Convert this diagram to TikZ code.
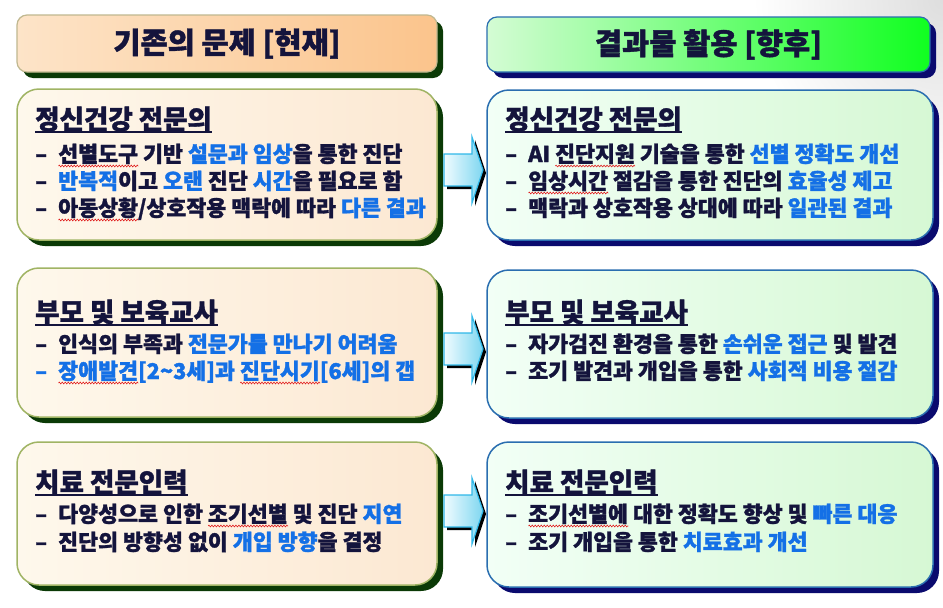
\documentclass[tikz,border=0pt]{standalone}
\usepackage{fontspec}
\setmainfont{Noto Sans CJK KR}[BoldFeatures={FakeBold=1.3}]
\usetikzlibrary{shadows,decorations.pathmorphing}
\definecolor{navytxt}{HTML}{14143C}
\definecolor{hlblue}{HTML}{1470E6}
\definecolor{wavered}{HTML}{E02020}
\definecolor{lshadow}{HTML}{0B3A06}
\definecolor{rshadow}{HTML}{0A0A6E}
\definecolor{lborder}{HTML}{A0B464}
\definecolor{lhborder}{HTML}{C0B890}
\definecolor{rborder}{HTML}{2A6EB0}
\definecolor{lhead1}{HTML}{FDE4C8}
\definecolor{lhead2}{HTML}{FBC48C}
\definecolor{rhead1}{HTML}{D4FCD4}
\definecolor{rheadm}{HTML}{7CFC80}
\definecolor{rhead2}{HTML}{10FF20}
\definecolor{lbox1}{HTML}{FEF8EC}
\definecolor{lbox2}{HTML}{FCE8D2}
\definecolor{rbox1}{HTML}{F2FFF6}
\definecolor{rbox2}{HTML}{D6F8D4}
\definecolor{arr1}{HTML}{F0FCFF}
\definecolor{arr2}{HTML}{7ED6F0}
\definecolor{arrb}{HTML}{30B8E8}
\newsavebox\wvbox
\newcommand\wv[1]{\sbox\wvbox{#1}\rlap{\tikz[x=1pt,y=1pt,baseline=0pt]\draw[wavered,line width=0.6pt,decorate,decoration={zigzag,segment length=3pt,amplitude=0.9pt}] (0pt,-4pt) -- (\the\wd\wvbox,-4pt);}\usebox\wvbox}
\newcommand\hb[1]{\textcolor{hlblue}{#1}}
\newcommand\dsh{\makebox[23pt][l]{–}}
\tikzset{
  lhead/.style={draw=lhborder, line width=1.2pt, rounded corners=10pt, left color=lhead1, right color=lhead2,
    general shadow={fill=lshadow, shadow xshift=6pt, shadow yshift=-6pt},
    minimum width=420pt, minimum height=57pt, inner sep=0pt, text=navytxt,
    font=\fontsize{29.5}{32}\selectfont\bfseries},
  rhead/.style={draw=rborder, line width=1.2pt, rounded corners=10pt, left color=rhead1, middle color=rheadm, right color=rhead2,
    general shadow={fill=rshadow, shadow xshift=6pt, shadow yshift=-6pt},
    minimum width=443pt, minimum height=55pt, inner sep=0pt, text=navytxt,
    font=\fontsize{29.5}{32}\selectfont\bfseries},
  lbox/.style={draw=lborder, line width=1.5pt, rounded corners=22pt, left color=lbox1, right color=lbox2,
    general shadow={fill=lshadow, shadow xshift=6pt, shadow yshift=-6pt},
    minimum width=420pt, inner sep=0pt},
  rbox/.style={draw=rborder, line width=1.5pt, rounded corners=22pt, left color=rbox1, right color=rbox2,
    general shadow={fill=rshadow, shadow xshift=6pt, shadow yshift=-6pt},
    minimum width=446pt, inner sep=0pt},
  ttl/.style={anchor=base west, inner sep=0pt, text=navytxt, font=\fontsize{26.5}{30}\selectfont\bfseries},
  txt/.style={anchor=base west, inner sep=0pt, text=navytxt, font=\fontsize{21.7}{26}\selectfont\bfseries},
  uline/.style={draw=navytxt, line width=1.6pt},
  barrow/.style={draw=arrb, line width=1.2pt, left color=arr1, right color=arr2},
  barrowsh/.style={fill=black}
}
\begin{document}
\begin{tikzpicture}[x=1pt,y=-1pt]
\useasboundingbox (0,0) rectangle (943,608);
\fill[white] (0,0) rectangle (943,608);
\shade[inner color=black!13, outer color=white] (943,0) circle (190);

% headers
\node[lhead] (h1) at (227,43.5) {기존의 문제 [현재]};
\node[rhead] (h2) at (708.5,44.5) {결과물 활용 [향후]};

% boxes
\node[lbox, minimum height=151pt] (b1) at (227,164.5) {};
\node[rbox, minimum height=150pt] (r1) at (710,165) {};
\node[lbox, minimum height=149pt] (b2) at (227,342.5) {};
\node[rbox, minimum height=148pt] (r2) at (710,344) {};
\node[lbox, minimum height=143pt] (b3) at (227,513.5) {};
\node[rbox, minimum height=145pt] (r3) at (710,514.5) {};

% arrows
\foreach \cy/\nm in {170/a1,349/a2,511/a3}{
  \fill[barrowsh] (447,\cy-13) -- (475,\cy-13) -- (475,\cy-30) -- (486,\cy+3) -- (475,\cy+36) -- (475,\cy+19) -- (447,\cy+19) -- cycle;
  \draw[barrow] (444,\cy-16) -- (472,\cy-16) -- (472,\cy-33) -- (483,\cy) -- (472,\cy+33) -- (472,\cy+16) -- (444,\cy+16) -- cycle;
  \coordinate (\nm) at (463,\cy);
}

% box 1 left
\node[ttl] (t1) at (35,129) {정신건강 전문의};
\draw[uline] ([yshift=-3pt]t1.base west) -- ([yshift=-3pt]t1.base east);
\node[txt] (l11) at (35,162) {\dsh\wv{선별도구} 기반 \hb{설문과} \hb{임상}을 통한 진단};
\node[txt] (l12) at (35,189) {\dsh\hb{반복적}이고 \hb{오랜} 진단 \hb{시간}을 필요로 함};
\node[txt] (l13) at (35,216) {\dsh\wv{아동상황}/상호작용 맥락에 따라 \hb{다른 결과}};

% box 1 right
\node[ttl] (u1) at (505,129) {정신건강 전문의};
\draw[uline] ([yshift=-3pt]u1.base west) -- ([yshift=-3pt]u1.base east);
\node[txt] (m11) at (505,162) {\dsh AI \wv{진단지원} 기술을 통한 \hb{선별 정확도 개선}};
\node[txt] (m12) at (505,189) {\dsh\wv{임상시간} 절감을 통한 진단의 \hb{효율성 제고}};
\node[txt] (m13) at (505,216) {\dsh 맥락과 상호작용 상대에 따라 \hb{일관된 결과}};

% box 2 left
\node[ttl] (t2) at (35,322) {부모 및 보육교사};
\draw[uline] ([yshift=-3pt]t2.base west) -- ([yshift=-3pt]t2.base east);
\node[txt] (l21) at (35,352) {\dsh 인식의 부족과 \hb{전문가를 만나기 어려움}};
\node[txt] (l22) at (35,379) {\hb{\dsh\wv{장애발견}[2\textasciitilde 3세]과 \wv{진단시기}[6세]의 갭}};

% box 2 right
\node[ttl] (u2) at (505,322) {부모 및 보육교사};
\draw[uline] ([yshift=-3pt]u2.base west) -- ([yshift=-3pt]u2.base east);
\node[txt] (m21) at (505,352) {\dsh 자가검진 환경을 통한 \hb{손쉬운 접근} 및 발견};
\node[txt] (m22) at (505,379) {\dsh 조기 발견과 개입을 통한 \hb{사회적 비용 절감}};

% box 3 left
\node[ttl] (t3) at (35,492) {치료 전문인력};
\draw[uline] ([yshift=-3pt]t3.base west) -- ([yshift=-3pt]t3.base east);
\node[txt] (l31) at (35,522) {\dsh 다양성으로 인한 \wv{조기선별} 및 진단 \hb{지연}};
\node[txt] (l32) at (35,550) {\dsh 진단의 방향성 없이 \hb{개입 방향}을 결정};

% box 3 right
\node[ttl] (u3) at (505,492) {치료 전문인력};
\draw[uline] ([yshift=-3pt]u3.base west) -- ([yshift=-3pt]u3.base east);
\node[txt] (m31) at (505,522) {\dsh\wv{조기선별에} 대한 정확도 향상 및 \hb{빠른 대응}};
\node[txt] (m32) at (505,550) {\dsh 조기 개입을 통한 \hb{치료효과 개선}};
\end{tikzpicture}
\end{document}
